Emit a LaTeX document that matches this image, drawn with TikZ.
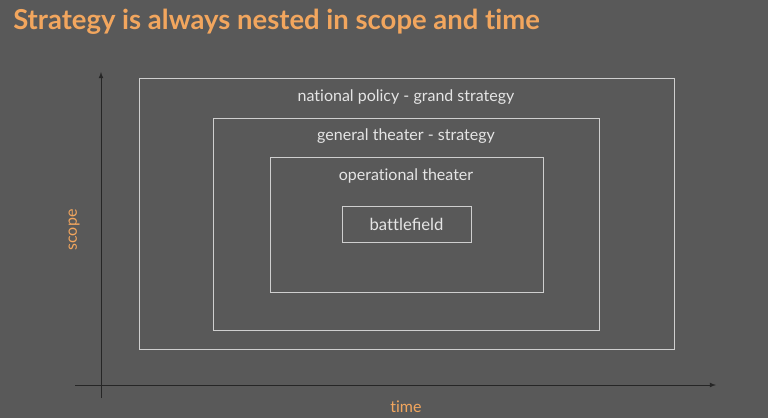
\documentclass[tikz,border=0pt]{standalone}
\usepackage{fontspec}
\setmainfont{Lato}[Ligatures=NoCommon]
\usepackage{tikz}
\definecolor{bg}{HTML}{595959}
\definecolor{accent}{HTML}{F2A65E}
\definecolor{frame}{HTML}{CFCFCF}
\definecolor{axis}{HTML}{262626}

\begin{document}
\begin{tikzpicture}[x=0.75pt,y=-0.75pt,
		levelbox/.style={draw=frame,line width=0.75pt},
		leveltext/.style={text=white!90!black,font=\fontsize{12}{14}\selectfont},
		axislabel/.style={text=accent,font=\fontsize{12}{14}\selectfont},
		axisline/.style={draw=axis,line width=0.6pt,-latex}]
		\fill[bg] (0,0) rectangle (768,418);
		\useasboundingbox (0,0) rectangle (768,418);
		\node[anchor=base west,text=accent,font=\fontsize{20.6}{24}\selectfont\bfseries,inner sep=0pt] (title) at (13,29) {Strategy is always nested in scope and time};
		% axes
		\coordinate (origin) at (101,398);
		\coordinate (ytop) at (101,72);
		\coordinate (xleft) at (75,385);
		\coordinate (xright) at (716,385);
		\draw[axisline] (origin) -- (ytop);
		\draw[axisline] (xleft) -- (xright);
		\node[axislabel,rotate=90] (scope) at (74,230) {scope};
		\node[axislabel] (time) at (406,407) {time};
		% nested levels
		\node[levelbox,minimum width=535*0.75pt,minimum height=271*0.75pt] (national) at (406.5,213.5) {};
		\node[levelbox,minimum width=386*0.75pt,minimum height=212*0.75pt] (general) at (406,224) {};
		\node[levelbox,minimum width=273*0.75pt,minimum height=135*0.75pt] (operational) at (406.5,224.5) {};
		\node[levelbox,minimum width=129*0.75pt,minimum height=36*0.75pt,leveltext,font=\fontsize{12.5}{14}\selectfont] (battlefield) at (406.5,224) {battleﬁeld};
		\node[leveltext] (nationaltext) at (406,97) {national policy - grand strategy};
		\node[leveltext] (generaltext) at (406,136) {general theater - strategy};
		\node[leveltext] (operationaltext) at (406,176) {operational theater};
	\end{tikzpicture}
\end{document}
